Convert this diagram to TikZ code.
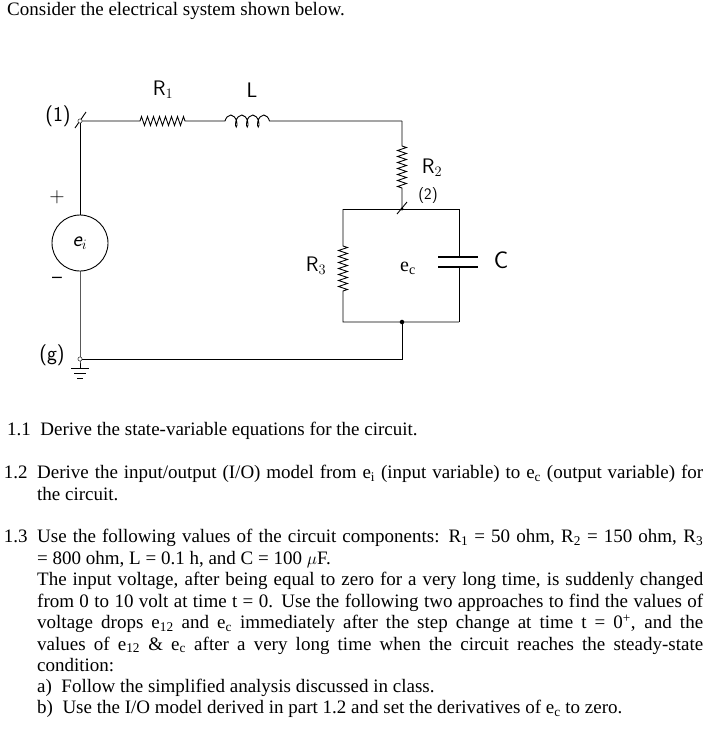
\documentclass[tikz,border=0pt]{standalone}
\usepackage{fontspec}
\setmainfont{Liberation Serif}
\usetikzlibrary{decorations.pathmorphing}
\begin{document}
\begin{tikzpicture}[x=1pt,y=-1pt,
  wire/.style={line width=0.9pt},
  hand/.style={font=\sffamily\fontsize{21}{21}\selectfont},
  txt/.style={anchor=north west,inner sep=0pt,align=justify,font=\fontsize{19}{21.5}\selectfont},
  dot/.style={circle,fill,inner sep=1.6pt},
  zz/.style={decoration={zigzag,segment length=6pt,amplitude=4.5pt}}]
\useasboundingbox (0,0) rectangle (711,742);
\node[txt] (title) at (7,2) {Consider the electrical system shown below.};
\coordinate (n1) at (80,121);
\coordinate (tr) at (402,121);
\coordinate (n2) at (402,209);
\coordinate (bl) at (343,209);
\coordinate (br) at (459,209);
\coordinate (bbl) at (343,322);
\coordinate (bbr) at (459,322);
\coordinate (nb) at (402,322);
\coordinate (ng) at (80,359);
\coordinate (gb) at (402,359);
\node[circle,draw,line width=0.9pt,minimum size=56pt,inner sep=0pt] (src) at (80,243) {\sffamily\itshape\fontsize{22}{22}\selectfont e$_i$};
\draw[wire] (n1) -- (140,121) decorate[zz]{-- (186,121)} -- (225,121)
  decorate[decoration={coil,aspect=0.5,segment length=11pt,amplitude=6pt}]{-- (273,121)} -- (tr);
\draw[wire] (tr) -- (402,146) decorate[zz]{-- (402,188)} -- (n2);
\draw[wire] (bl) -- (br);
\draw[wire] (bl) -- (343,246) decorate[zz]{-- (343,292)} -- (bbl) -- (bbr);
\draw[wire] (br) -- (459,257);
\draw[wire] (459,267) -- (bbr);
\draw[line width=1.5pt] (438,257) -- (478,257);
\draw[line width=1.5pt] (438,267) -- (478,267);
\draw[wire] (nb) -- (gb) -- (ng);
\draw[wire] (n1) -- (src.north);
\draw[wire] (src.south) -- (ng) -- (80,368);
\draw[wire] (71,368) -- (89,368) (74,373) -- (86,373) (77,378) -- (83,378);
\draw[wire] (75,128) -- (86,112);
\draw[wire] (397,214) -- (407,202);
\node[circle,draw,fill=white,inner sep=1.5pt] at (n1) {};
\node[circle,draw,fill=white,inner sep=1.5pt] at (ng) {};
\node[dot] at (nb) {};
\node[dot,inner sep=1.2pt] at (n2) {};
\node[hand] (l1) at (58,116) {(1)};
\node[hand] (lR1) at (163,90) {R$_1$};
\node[hand] (lL) at (252,90) {L};
\node[hand] (lR2) at (432,168) {R$_2$};
\node[hand,font=\sffamily\fontsize{16}{16}\selectfont] (l2) at (428,196) {(2)};
\node[hand] (lp) at (57,197) {+};
\node[hand] (lm) at (57,280) {--};
\node[hand] (lR3) at (316,266) {R$_3$};
\node[hand,font=\sffamily\fontsize{24}{24}\selectfont] (lC) at (501,260) {C};
\node[hand] (lg) at (52,355) {(g)};
\node[font=\fontsize{20}{20}\selectfont] (ec) at (408,268) {e\textsubscript{c}};
% text
\node[txt] (q1) at (7,422) {1.1\ \ Derive the state-variable equations for the circuit.};
\node[txt,text width=666pt] (q2) at (37,465) {\llap{1.2\ \ }Derive the input/output (I/O) model from e\textsubscript{i} (input variable) to e\textsubscript{c} (output variable) for\linebreak the circuit.};
\node[txt,text width=666pt] (q3) at (37,529) {\llap{1.3\ \ }Use the following values of the circuit components: R\textsubscript{1} = 50 ohm, R\textsubscript{2} = 150 ohm, R\textsubscript{3}\linebreak = 800 ohm, L = 0.1 h, and C = 100 $\mu$F.};
\node[txt,text width=666pt] (q4) at (37,572) {The input voltage, after being equal to zero for a very long time, is suddenly changed\linebreak from 0 to 10 volt at time t = 0. Use the following two approaches to find the values of\linebreak voltage drops e\textsubscript{12} and e\textsubscript{c} immediately after the step change at time t = 0\textsuperscript{+}, and the\linebreak values of e\textsubscript{12} \& e\textsubscript{c} after a very long time when the circuit reaches the steady-state\linebreak condition:};
\node[txt] (qa) at (37,679) {a)\ \ Follow the simplified analysis discussed in class.};
\node[txt] (qb) at (37,700) {b)\ \ Use the I/O model derived in part 1.2 and set the derivatives of e\textsubscript{c} to zero.};
\end{tikzpicture}
\end{document}
